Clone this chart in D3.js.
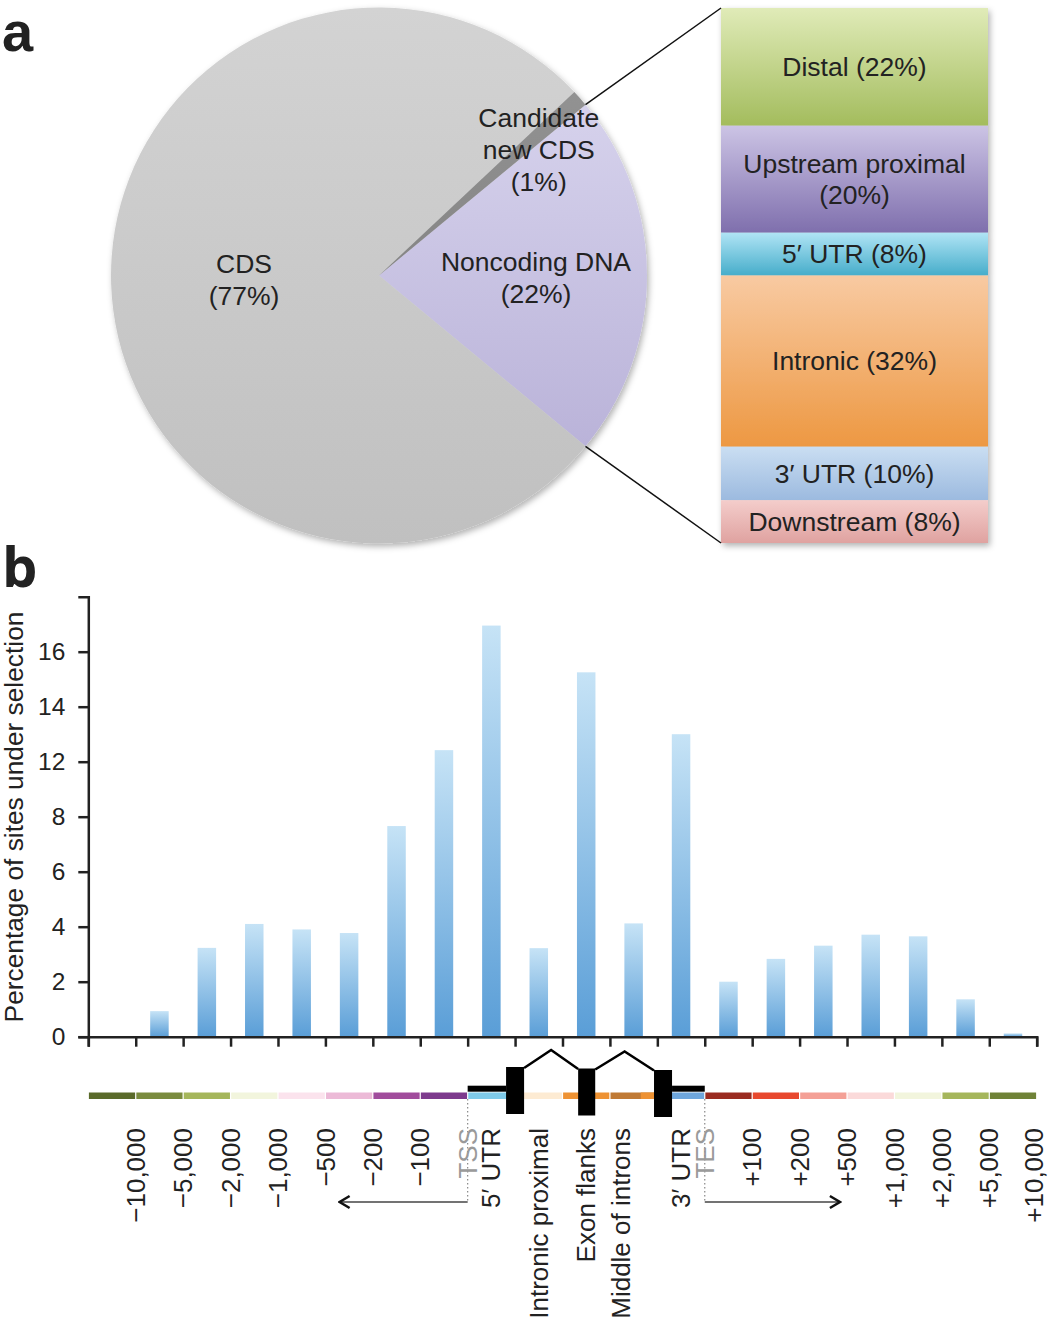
<!DOCTYPE html>
<html>
<head>
<meta charset="utf-8">
<script src="https://cdnjs.cloudflare.com/ajax/libs/d3/7.8.5/d3.min.js"></script>
<style>
  body { margin: 0; background: #fff; }
  text { font-family: "Liberation Sans", Arial, Helvetica, sans-serif; fill: #222; }
</style>
</head>
<body>
<script>
// ---- panel a data ----
const pieNames  = ["Noncoding DNA", "CDS", "Candidate new CDS"];
const pieValues = [22, 77, 1];
const pieText   = [["Noncoding DNA", "(22%)"], ["CDS", "(77%)"], ["Candidate", "new CDS", "(1%)"]];

const stackNames  = ["Distal", "Upstream proximal", "5′ UTR", "Intronic", "3′ UTR", "Downstream"];
const stackValues = [22, 20, 8, 32, 10, 8];
const stackText   = [["Distal (22%)"], ["Upstream proximal", "(20%)"], ["5′ UTR (8%)"],
                     ["Intronic (32%)"], ["3′ UTR (10%)"], ["Downstream (8%)"]];

// ---- panel b data ----
const regions = ["< −10,000", "−10,000 to −5,000", "−5,000 to −2,000", "−2,000 to −1,000",
  "−1,000 to −500", "−500 to −200", "−200 to −100", "−100 to TSS", "5′ UTR",
  "Intronic proximal", "Exon flanks", "Middle of introns", "3′ UTR", "TES to +100",
  "+100 to +200", "+200 to +500", "+500 to +1,000", "+1,000 to +2,000",
  "+2,000 to +5,000", "+5,000 to +10,000"];
const selectPct = [0, 0.93, 3.23, 4.1, 3.9, 3.77, 7.66, 12.42, 16.95, 3.22,
  15.25, 4.12, 13.0, 2.0, 2.83, 3.31, 3.71, 3.65, 1.36, 0.12];
const yTicks = [0, 2, 4, 6, 8, 12, 14, 16];

// labels under the axis, placed in region units (boundary index)
const axisLabels = ["−10,000", "−5,000", "−2,000", "−1,000", "−500", "−200", "−100", "TSS",
  "5′ UTR", "Intronic proximal", "Exon flanks", "Middle of introns", "3′ UTR", "TES",
  "+100", "+200", "+500", "+1,000", "+2,000", "+5,000", "+10,000"];
const axisLabelPos = [1, 2, 3, 4, 5, 6, 7, 8, 8.5, 9.5, 10.5, 11.23, 12.5, 13,
  14, 15, 16, 17, 18, 19, 19.95];

// gene model in region units
const exonSpans  = [[8.81, 9.19], [10.33, 10.69], [11.93, 12.31]];
const utrSpans   = [[8, 8.81], [12.31, 13]];
const flankExtra = [[11.65, 11.93]];

// colours
const pieColors = [["#d6d2ec", "#bab3d9"], ["#d3d3d3", "#c0c0c0"], ["#929292", "#858585"]];
const stackColors = [["#e0ebb8", "#a3bc5d"], ["#ccc4e5", "#7f6fad"], ["#b0e4f5", "#46adca"],
  ["#f8caa2", "#ed9842"], ["#cadef2", "#9cbadf"], ["#f4cdcb", "#dfa2a0"]];
const stripColors = ["#5a6a2a", "#7a8b3e", "#a5b65b", "#f2f5dd", "#fbe3ed", "#ecbad7",
  "#a14c9c", "#7d3a8d", "#7fcbea", "#fdebd3", "#ee9233", "#c07a35", "#6ea6dc",
  "#9a2b20", "#e8482e", "#f4a096", "#fbdada", "#f2f5dd", "#a5b65b", "#6f8237"];

const W = 1050, H = 1321;
const svg = d3.select("body").append("svg").attr("width", W).attr("height", H);
const defs = svg.append("defs");

function vGrad(id, top, bottom) {
  const g = defs.append("linearGradient").attr("id", id)
    .attr("x1", 0).attr("y1", 0).attr("x2", 0).attr("y2", 1);
  g.append("stop").attr("offset", "0%").attr("stop-color", top);
  g.append("stop").attr("offset", "100%").attr("stop-color", bottom);
}

const shadow = defs.append("filter").attr("id", "shadow")
  .attr("x", "-10%").attr("y", "-10%").attr("width", "130%").attr("height", "130%");
shadow.append("feDropShadow").attr("dx", 2).attr("dy", 3).attr("stdDeviation", 3)
  .attr("flood-color", "#000").attr("flood-opacity", 0.3);

const arrow = defs.append("marker").attr("id", "arrow")
  .attr("viewBox", "-12 -8 14 16").attr("refX", 0).attr("refY", 0)
  .attr("markerWidth", 14).attr("markerHeight", 16).attr("markerUnits", "userSpaceOnUse")
  .attr("orient", "auto");
arrow.append("path").attr("d", "M-10,-6L0,0L-10,6").attr("fill", "none")
  .attr("stroke", "#111").attr("stroke-width", 2.5);

// panel letters
svg.append("text").attr("x", 2).attr("y", 50.5).text("a")
  .style("font-weight", 700).style("font-size", "56px");
svg.append("text").attr("x", 2).attr("y", 587).text("b")
  .style("font-family", "'Open Sans', sans-serif").style("font-weight", 700).style("font-size", "56px");

// ===== pie =====
const pieCx = 379, pieCy = 275.5, pieR = 268;
const total = d3.sum(pieValues);
const startA = Math.PI / 2 - (pieValues[0] / total) * Math.PI;   // noncoding centred at 3 o'clock
const pie = d3.pie().sort(null).startAngle(startA).endAngle(startA + 2 * Math.PI);
const arcs = pie(pieValues);
const arc = d3.arc().innerRadius(0).outerRadius(pieR);

pieColors.forEach((c, i) => vGrad("pieg" + i, c[0], c[1]));

const pg = svg.append("g").attr("transform", `translate(${pieCx},${pieCy})`);
pg.append("g").attr("filter", "url(#shadow)")
  .selectAll("path").data(arcs).join("path")
  .attr("d", arc)
  .attr("fill", (d, i) => `url(#pieg${i})`);

const labelR = [157, 135, 203];
const labelTurn = [0, 0, 3.3 * Math.PI / 180];
const labelNudge = [2, 0, -1];
arcs.forEach((a, i) => {
  const mid = (a.startAngle + a.endAngle) / 2 + labelTurn[i];
  const lx = labelR[i] * Math.sin(mid), ly = -labelR[i] * Math.cos(mid) + labelNudge[i];
  const lines = pieText[i];
  lines.forEach((t, j) => {
    pg.append("text")
      .attr("x", lx)
      .attr("y", ly + (j - (lines.length - 1) / 2) * 32)
      .attr("dy", "0.35em")
      .attr("text-anchor", "middle")
      .style("font-size", "26.5px")
      .text(t);
  });
});

// ===== stacked breakdown =====
const sx0 = 721, sx1 = 988;
const sy = d3.scaleLinear().domain([0, d3.sum(stackValues)]).range([8, 543]);
let cum = 0;
const stackData = stackValues.map((v, i) => { const d = { i, y0: cum, y1: cum + v }; cum += v; return d; });
stackColors.forEach((c, i) => vGrad("stk" + i, c[0], c[1]));

const sg = svg.append("g");
sg.append("g").attr("filter", "url(#shadow)")
  .selectAll("rect").data(stackData).join("rect")
  .attr("x", sx0).attr("width", sx1 - sx0)
  .attr("y", d => sy(d.y0)).attr("height", d => sy(d.y1) - sy(d.y0))
  .attr("fill", d => `url(#stk${d.i})`);

stackData.forEach(d => {
  const cy = (sy(d.y0) + sy(d.y1)) / 2;
  const lines = stackText[d.i];
  lines.forEach((t, j) => {
    sg.append("text")
      .attr("x", (sx0 + sx1) / 2)
      .attr("y", cy + (j - (lines.length - 1) / 2) * 31)
      .attr("dy", "0.35em")
      .attr("text-anchor", "middle")
      .style("font-size", "26.5px")
      .text(t);
  });
});

// connectors from the noncoding slice to the bar
const nc = arcs[0];
const edge = a => [pieCx + pieR * Math.sin(a), pieCy - pieR * Math.cos(a)];
[[edge(nc.startAngle), [sx0, sy(0)]], [edge(nc.endAngle), [sx0, sy(d3.sum(stackValues))]]]
  .forEach(p => {
    svg.append("line")
      .attr("x1", p[0][0]).attr("y1", p[0][1]).attr("x2", p[1][0]).attr("y2", p[1][1])
      .attr("stroke", "#111").attr("stroke-width", 1.5);
  });

// ===== panel b bars =====
const bLeft = 88.3, bRight = 1036.7, bBase = 1036.7;
const x = d3.scaleBand().domain(regions).range([bLeft, bRight]).paddingInner(0.61).paddingOuter(0.305);
const xb = d3.scaleLinear().domain([0, regions.length]).range([bLeft, bRight]);
// the printed axis skips "10": 8 -> 12 takes one tick step
const y = d3.scaleLinear().domain([0, 8, 12, 18]).range([bBase, 816.7, 761.7, 596.7]);

vGrad("barg", "#c6e3f6", "#5a9ed7");
svg.append("g").selectAll("rect").data(regions).join("rect")
  .attr("x", d => x(d)).attr("width", x.bandwidth())
  .attr("y", (d, i) => y(selectPct[i]))
  .attr("height", (d, i) => bBase - y(selectPct[i]))
  .attr("fill", "url(#barg)");

const yAxis = svg.append("g").attr("transform", `translate(${bLeft},0)`)
  .call(d3.axisLeft(y).tickValues(yTicks).tickSize(10).tickSizeOuter(10).tickPadding(13));
const xAxis = svg.append("g").attr("transform", `translate(0,${bBase})`)
  .call(d3.axisBottom(xb).tickValues(d3.range(regions.length + 1)).tickSize(10).tickSizeOuter(10).tickFormat(""));
[yAxis, xAxis].forEach(a => {
  a.selectAll("path, line").attr("stroke", "#222").attr("stroke-width", 2.5);
  a.selectAll("text").style("font-size", "24.5px").style("font-family", "'Liberation Sans', Arial, sans-serif").attr("fill", "#222");
});

svg.append("text")
  .attr("transform", `translate(23,817) rotate(-90)`)
  .attr("text-anchor", "middle")
  .style("font-size", "26.3px")
  .text("Percentage of sites under selection");

// ===== region strip and gene model =====
const stripY = 1092.5, stripH = 6.5;
svg.append("g").selectAll("rect").data(regions).join("rect")
  .attr("x", (d, i) => xb(i) + 0.6).attr("width", (d, i) => xb(i + 1) - xb(i) - 1.2)
  .attr("y", stripY).attr("height", stripH)
  .attr("fill", (d, i) => stripColors[i]);
svg.append("g").selectAll("rect").data(flankExtra).join("rect")
  .attr("x", d => xb(d[0])).attr("width", d => xb(d[1]) - xb(d[0]))
  .attr("y", stripY).attr("height", stripH).attr("fill", stripColors[10]);

// dotted drops at TSS / TES
[8, 13].forEach(b => {
  svg.append("line").attr("x1", xb(b)).attr("x2", xb(b)).attr("y1", stripY + stripH).attr("y2", 1203)
    .attr("stroke", "#888").attr("stroke-width", 1.2).attr("stroke-dasharray", "1.5,2.5");
});
// arrows
svg.append("line").attr("x1", xb(8)).attr("x2", xb(5.3)).attr("y1", 1202).attr("y2", 1202)
  .attr("stroke", "#444").attr("stroke-width", 1.6).attr("marker-end", "url(#arrow)");
svg.append("line").attr("x1", xb(13)).attr("x2", xb(15.85)).attr("y1", 1202).attr("y2", 1202)
  .attr("stroke", "#444").attr("stroke-width", 1.6).attr("marker-end", "url(#arrow)");

svg.append("g").selectAll("rect").data(utrSpans).join("rect")
  .attr("x", d => xb(d[0])).attr("width", d => xb(d[1]) - xb(d[0]))
  .attr("y", 1085.7).attr("height", 6).attr("fill", "#000");
svg.append("g").selectAll("rect").data(exonSpans).join("rect")
  .attr("x", d => xb(d[0])).attr("width", d => xb(d[1]) - xb(d[0]))
  .attr("y", (d, i) => 1067 + i * 1.5).attr("height", 47).attr("fill", "#000");
for (let i = 0; i < exonSpans.length - 1; i++) {
  const a = exonSpans[i][1], b = exonSpans[i + 1][0];
  svg.append("polyline")
    .attr("points", [[xb(a), 1068 + i * 1.5], [xb((a + b) / 2), 1050 + i * 1.5], [xb(b), 1069 + i * 1.5]].map(p => p.join(",")).join(" "))
    .attr("fill", "none").attr("stroke", "#000").attr("stroke-width", 2.5);
}

// rotated labels
svg.append("g").selectAll("text").data(axisLabels).join("text")
  .attr("transform", (d, i) => `translate(${xb(axisLabelPos[i])},1128) rotate(-90)`)
  .attr("dy", "0.35em")
  .attr("text-anchor", "end")
  .style("font-size", "26px")
  .style("fill", d => (d === "TSS" || d === "TES") ? "#9a9a9a" : "#222")
  .text(d => d);
</script>
</body>
</html>
